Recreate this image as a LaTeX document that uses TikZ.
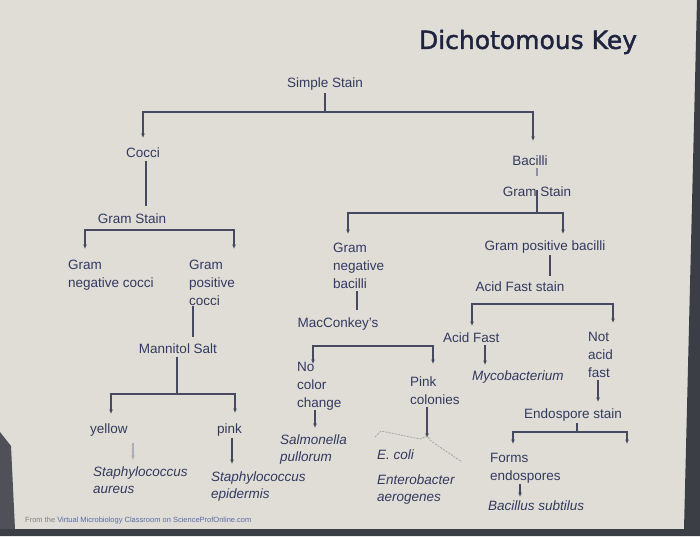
\documentclass[tikz,border=0pt]{standalone}
\usepackage{fontspec}
\setmainfont{Liberation Sans}
\newfontfamily\titlefont[FakeBold=1.6]{DejaVu Sans}
\usetikzlibrary{arrows.meta}
\definecolor{bgc}{HTML}{DFDDD6}
\definecolor{txtc}{HTML}{333A60}
\definecolor{linec}{HTML}{454A5E}
\definecolor{titlec}{HTML}{1E2440}
\definecolor{framec}{HTML}{3C3E46}
\definecolor{footblue}{HTML}{5A6AA8}
\tikzset{
  lbl/.style={inner sep=0pt, text=txtc, font=\fontsize{13.5}{18}\selectfont, align=left},
  ilbl/.style={lbl, font=\fontsize{13.5}{17}\selectfont\itshape},
  conn/.style={draw=linec, line width=1.3pt},
  arr/.style={conn, -{Latex[length=4.5pt,width=4pt]}},
  faint/.style={draw=gray!70, line width=0.8pt, dash pattern=on 2pt off 1.2pt}
}
\begin{document}
\begin{tikzpicture}[x=1pt,y=-1pt]
\useasboundingbox (0,0) rectangle (700,536);
\fill[bgc] (0,0) rectangle (700,536);
\fill[framec] (697,0) -- (700,0) -- (700,536) -- (0,536) -- (0,529) -- (684,529) -- cycle;
\fill[framec!90] (0,432) -- (11,446) -- (15,529) -- (0,529) -- cycle;

% title
\node[inner sep=0pt, text=titlec, font=\titlefont\fontsize{25}{30}\selectfont] (title) at (528,42) {Dichotomous Key};

% text nodes
\node[lbl] (simple) at (325,84) {Simple Stain};
\node[lbl] (cocci) at (143,153) {Cocci};
\node[lbl] (gsL) at (132,219) {Gram Stain};
\node[lbl, anchor=north west] (gnc) at (68,260) {Gram\\negative cocci};
\node[lbl, anchor=north west] (gpc) at (189,260) {Gram\\positive\\cocci};
\node[lbl] (mannitol) at (178,349) {Mannitol Salt};
\node[lbl, anchor=west] (yellow) at (90,430) {yellow};
\node[lbl, anchor=west] (pink) at (217,430) {pink};
\node[ilbl, anchor=north west] (saureus) at (93,467) {Staphylococcus\\aureus};
\node[ilbl, anchor=north west] (sepi) at (211,472) {Staphylococcus\\epidermis};

\node[lbl] (bacilli) at (530,161) {Bacilli};
\node[lbl] (gsR) at (537,192) {Gram Stain};
\node[lbl, anchor=north west] (gnb) at (333,243) {Gram\\negative\\bacilli};
\node[lbl] (gpb) at (545,247) {Gram positive bacilli};
\node[lbl] (afs) at (520,287) {Acid Fast stain};
\node[lbl] (mac) at (338,324) {MacConkey's};
\node[lbl, anchor=north west] (ncc) at (297,362) {No\\color\\change};
\node[ilbl, anchor=north west] (salm) at (280,435) {Salmonella\\pullorum};
\node[lbl, anchor=north west] (pinkc) at (410,377) {Pink\\colonies};
\node[ilbl, anchor=west] (ecoli) at (377,455) {E. coli};
\node[ilbl, anchor=north west] (entero) at (377,475) {Enterobacter\\aerogenes};
\node[lbl, anchor=west] (af) at (443,338) {Acid Fast};
\node[ilbl, anchor=west] (myco) at (472,377) {Mycobacterium};
\node[lbl, anchor=north west] (naf) at (588,332) {Not\\acid\\fast};
\node[lbl] (endo) at (573,415) {Endospore stain};
\node[lbl, anchor=north west] (forms) at (490,453) {Forms\\endospores};
\node[ilbl, anchor=west] (bsub) at (488,506) {Bacillus subtilus};

\node[inner sep=0pt, anchor=west, font=\fontsize{7.5}{9}\selectfont] (foot) at (25,521)
  {\textcolor{gray}{From the} \textcolor{footblue}{Virtual Microbiology Classroom on ScienceProfOnline.com}};

% coordinates for connectors
\coordinate (s0) at (325,93);  \coordinate (s1) at (325,112);
\coordinate (s2) at (143,138); \coordinate (s3) at (533,141);
\coordinate (c0) at (146,161); \coordinate (c1) at (146,206);
\coordinate (g1) at (160,230);
\coordinate (g2) at (85,249);  \coordinate (g3) at (234,249);
\coordinate (p0) at (193,306); \coordinate (p1) at (193,337);
\coordinate (m0) at (177,357); \coordinate (m1) at (177,394);
\coordinate (m2) at (111,414); \coordinate (m3) at (235,413);
\coordinate (y0) at (133,443); \coordinate (y1) at (133,460);
\coordinate (k0) at (232,438); \coordinate (k1) at (232,464);
\coordinate (b0) at (537,168); \coordinate (b1) at (537,213);
\coordinate (b2) at (348,234); \coordinate (b3) at (563,234);
\coordinate (n0) at (357,291); \coordinate (n1) at (357,310);
\coordinate (q1) at (373,346);
\coordinate (q2) at (313,364); \coordinate (q3) at (433,364);
\coordinate (nc0) at (315,410); \coordinate (nc1) at (315,428);
\coordinate (pc0) at (427,407); \coordinate (pc1) at (427,438);
\coordinate (gp0) at (550,255); \coordinate (gp1) at (550,276);
\coordinate (a1) at (540,304);
\coordinate (a2) at (472,326); \coordinate (a3) at (613,323);
\coordinate (af0) at (485,345); \coordinate (af1) at (485,365);
\coordinate (na0) at (598,380); \coordinate (na1) at (598,402);
\coordinate (e0) at (577,423); \coordinate (e1) at (577,432);
\coordinate (e2) at (513,444); \coordinate (e3) at (627,444);
\coordinate (f0) at (520,484); \coordinate (f1) at (520,497);

% connectors
\draw[conn] (s0) -- (s1);
\draw[arr] (s1) -| (s2);
\draw[arr] (s1) -| (s3);
\draw[conn] (c0) -- (c1);
\draw[arr] (g1) -| (g2);
\draw[arr] (g1) -| (g3);
\draw[conn] (p0) -- (p1);
\draw[conn] (m0) -- (m1);
\draw[arr] (m1) -| (m2);
\draw[arr] (m1) -| (m3);
\draw[arr, draw=linec!45] (y0) -- (y1);
\draw[arr] (k0) -- (k1);
\draw[conn, draw=linec!60] (b0) -- (537,176);
\draw[conn] (537,190) -- (b1);
\draw[arr] (b1) -| (b2);
\draw[arr] (b1) -| (b3);
\draw[conn] (n0) -- (n1);
\draw[arr] (q1) -| (q2);
\draw[arr] (q1) -| (q3);
\draw[arr] (nc0) -- (nc1);
\draw[arr] (pc0) -- (pc1);
\draw[faint] (375,437) -- (381,431) -- (420,439) -- (427,436) -- (431,441) -- (462,462);
\draw[conn] (gp0) -- (gp1);
\draw[arr] (a1) -| (a2);
\draw[arr] (a1) -| (a3);
\draw[arr] (af0) -- (af1);
\draw[arr] (na0) -- (na1);
\draw[conn] (e0) -- (e1);
\draw[arr] (e1) -| (e2);
\draw[arr] (e1) -| (e3);
\draw[arr] (f0) -- (f1);
\end{tikzpicture}
\end{document}
